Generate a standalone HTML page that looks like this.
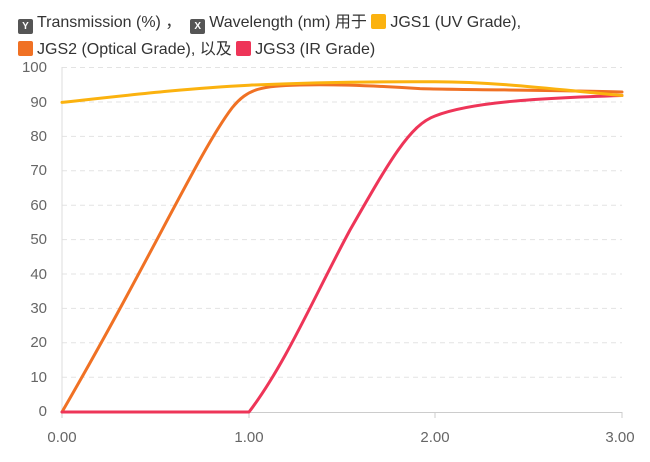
<!DOCTYPE html>
<html><head><meta charset="utf-8"><style>
body{margin:0;background:#fff;width:650px;height:462px;overflow:hidden;font-family:"Liberation Sans","Noto Sans CJK SC",sans-serif;}
.lg{position:absolute;left:18px;font-size:16px;color:#333;white-space:nowrap}
.b{display:inline-block;width:15px;height:15px;border-radius:2px;vertical-align:-2px;margin-right:4px;color:#fff;font-size:10px;text-align:center;line-height:15px;font-weight:bold}
</style></head><body>
<div class="lg" style="top:8px"><span class="b" style="background:#555">Y</span>Transmission (%) ，&nbsp; <span class="b" style="background:#555">X</span>Wavelength (nm) 用于 <span class="b" style="background:#FBB20F"></span>JGS1 (UV Grade),</div>
<div class="lg" style="top:35px"><span class="b" style="background:#F07124"></span>JGS2 (Optical Grade), 以及 <span class="b" style="background:#EE3558"></span>JGS3 (IR Grade)</div>
<svg width="650" height="462" style="position:absolute;left:0;top:0">
<g stroke="#e3e3e3" stroke-dasharray="5,4" stroke-width="1">
<line x1="62" x2="622" y1="67.5" y2="67.5"/><line x1="62" x2="622" y1="102" y2="102"/><line x1="62" x2="622" y1="136.4" y2="136.4"/><line x1="62" x2="622" y1="170.8" y2="170.8"/><line x1="62" x2="622" y1="205.2" y2="205.2"/><line x1="62" x2="622" y1="239.6" y2="239.6"/><line x1="62" x2="622" y1="274" y2="274"/><line x1="62" x2="622" y1="308.4" y2="308.4"/><line x1="62" x2="622" y1="342.8" y2="342.8"/><line x1="62" x2="622" y1="377.2" y2="377.2"/>
</g>
<line x1="62" x2="62" y1="67" y2="412" stroke="#ddd"/>
<line x1="62" x2="622" y1="412.5" y2="412.5" stroke="#ccc"/>
<g stroke="#ccc"><line x1="62" x2="62" y1="412" y2="418"/><line x1="249" x2="249" y1="412" y2="418"/><line x1="435" x2="435" y1="412" y2="418"/><line x1="622" x2="622" y1="412" y2="418"/></g>
<g font-size="15" fill="#666" text-anchor="end">
<text x="47" y="72">100</text><text x="47" y="107">90</text><text x="47" y="141">80</text><text x="47" y="175">70</text><text x="47" y="210">60</text><text x="47" y="244">50</text><text x="47" y="279">40</text><text x="47" y="313">30</text><text x="47" y="347">20</text><text x="47" y="382">10</text><text x="47" y="416">0</text>
</g>
<g font-size="15" fill="#666" text-anchor="middle">
<text x="62" y="442">0.00</text><text x="249" y="442">1.00</text><text x="435" y="442">2.00</text><text x="620" y="442">3.00</text>
</g>
<g fill="none" stroke-width="3" stroke-linecap="round" stroke-linejoin="round">
<path d="M62,412 C150,260 200,150 232,108 C248,88 262,86 300,85 C340,84 380,86 420,88.6 C470,90 560,90 622,92" stroke="#F07124"/>
<path d="M62,412 L249,412 C285,365 315,295 350,230 C390,160 410,125 435,116 C470,102 540,98 622,95.5" stroke="#EE3558"/>
<path d="M62,102.4 C130,95 190,88 249,85.2 C320,82 380,81.5 435,81.8 C500,82 560,90 622,95.5" stroke="#FBB20F"/>
</g>
</svg>
</body></html>
